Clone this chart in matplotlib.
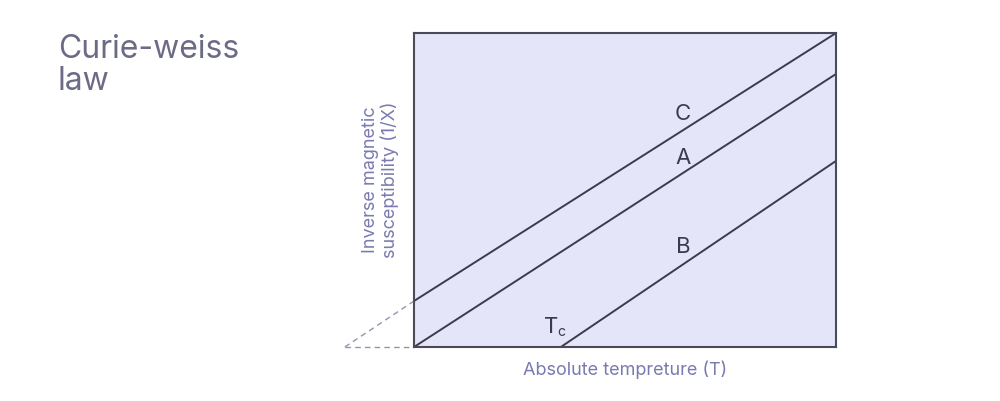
import matplotlib.pyplot as plt

plt.rcParams['font.family'] = ['Inter', 'DejaVu Sans']

# lines as (start, end) points in plot units (x: 0..10, y: 0..7.44)
line_c = ([0.0, 10.0], [1.09, 7.44])
line_a = ([0.0, 10.0], [0.0, 6.47])
line_b = ([3.48, 10.0], [0.0, 4.41])
# dashed extension of C down to the T axis
ext_c = ([-1.64, 0.0], [0.0, 1.09])
ext_base = ([-1.64, 0.0], [0.0, 0.0])

labels = ['C', 'A', 'B']
label_pos = [(6.38, 5.55), (6.38, 4.5), (6.38, 2.4)]

line_col = '#3b3b4b'
text_col = '#7a7ab0'
fill_col = '#e5e5fa'

fig = plt.figure(figsize=(10, 4.02), dpi=100)
ax = fig.add_axes([0.414, 0.1343, 0.422, 0.781])
ax.set_facecolor(fill_col)
ax.set_xlim(0, 10)
ax.set_ylim(0, 7.44)
ax.set_xticks([])
ax.set_yticks([])
for s in ax.spines.values():
    s.set_color('#4a4a58')
    s.set_linewidth(1.5)

for xs, ys in [line_c, line_a, line_b]:
    ax.plot(xs, ys, color=line_col, lw=1.4, solid_capstyle='butt')

for xs, ys in [ext_c, ext_base]:
    ax.plot(xs, ys, color='#9494b0', lw=1.0, ls=(0, (4, 3)), clip_on=False)

for lab, (x, y) in zip(labels, label_pos):
    ax.text(x, y, lab, fontsize=16, color='#3b3b4b', ha='center', va='center')

ax.text(3.25, 0.5, 'T', fontsize=16, color='#3b3b4b', ha='center', va='center')
ax.text(3.48, 0.38, 'c', fontsize=10, color='#3b3b4b', ha='center', va='center')

ax.text(0.5, -0.068, 'Absolute tempreture (T)', transform=ax.transAxes,
        fontsize=13, color=text_col, ha='center', va='center')
ax.text(-0.08, 0.535, 'Inverse magnetic\nsusceptibility (1/X)', transform=ax.transAxes,
        fontsize=13, color=text_col, ha='center', va='center', rotation=90,
        linespacing=1.1)

fig.text(0.058, 0.915, 'Curie-weiss\nlaw', fontsize=23, color='#6b6b86',
         ha='left', va='top', linespacing=1.05)

fig.savefig('out.png', dpi=100)
